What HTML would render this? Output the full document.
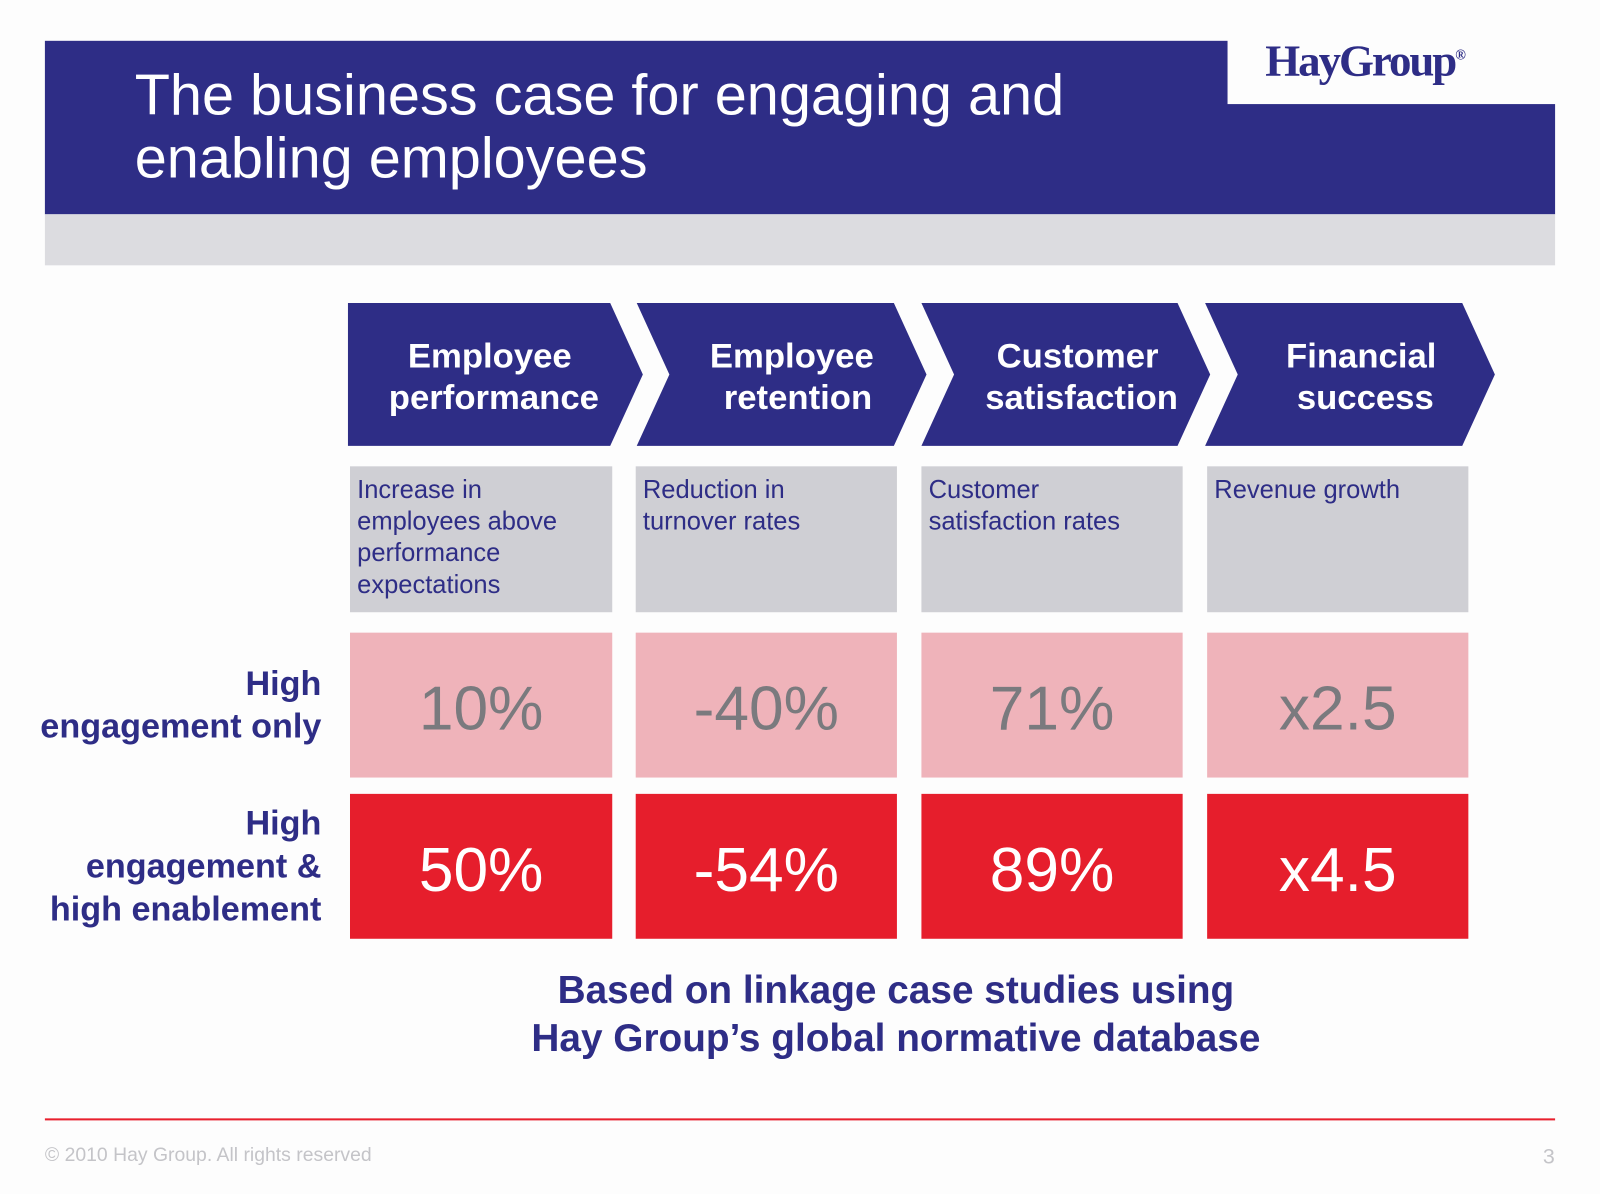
<!DOCTYPE html>
<html><head><meta charset="utf-8"><style>
body{margin:0;width:1600px;height:1194px;background:#fdfdfd;position:relative;overflow:hidden;font-family:"Liberation Sans",sans-serif}
#wrap{position:absolute;left:0;top:0;width:1568px;height:1170px;transform:scale(1.0204);transform-origin:0 0}
div{position:absolute}
#wrap>div,#wrap>svg{position:absolute}
.box{display:flex;align-items:center;justify-content:center;padding-top:6px;box-sizing:border-box}
.gray{background:#cfcfd4;color:#2e2d86;font-size:25px;line-height:31px;padding:8px 7px;box-sizing:border-box}
.pink{background:#efb3ba;color:#7a7a7e;font-size:61px}
.red{background:#e61e2c;color:#fff;font-size:61px}
.lbl{right:1253px;text-align:right;color:#2e2d86;font-weight:bold;font-size:33.5px;line-height:42px}
</style></head><body>
<div id="wrap">
<div style="left:44px;top:40px;width:1480px;height:170px;background:#2e2d86"></div>
<div style="left:1203px;top:38px;width:325px;height:64px;background:#fdfdfd"></div>
<div style="left:1240px;top:34px;font-family:'Liberation Serif',serif;font-weight:bold;font-size:44px;color:#2e2d86;letter-spacing:-2px">HayGroup<sup style="font-size:14px">®</sup></div>
<div style="left:132px;top:62px;color:#fff;font-size:56.5px;line-height:62px">The business case for engaging and<br>enabling employees</div>
<div style="left:44px;top:210px;width:1480px;height:50px;background:#dcdce0"></div>
<svg style="left:0;top:0" width="1568" height="460">
<polygon points="341,297 598,297 630,367 598,437 341,437" fill="#2e2d86"/>
<polygon points="624,297 876,297 908,367 876,437 624,437 656,367" fill="#2e2d86"/>
<polygon points="903,297 1154,297 1186,367 1154,437 903,437 935,367" fill="#2e2d86"/>
<polygon points="1181,297 1433,297 1465,367 1433,437 1181,437 1213,367" fill="#2e2d86"/>
<g fill="#fff" font-weight="bold" font-size="34" text-anchor="middle" font-family="Liberation Sans, sans-serif">
<text x="480" y="360">Employee</text><text x="484" y="401">performance</text>
<text x="776" y="360">Employee</text><text x="782" y="401">retention</text>
<text x="1056" y="360">Customer</text><text x="1060" y="401">satisfaction</text>
<text x="1334" y="360">Financial</text><text x="1338" y="401">success</text>
</g></svg>
<div class="gray" style="left:343px;top:457px;width:257px;height:143px">Increase in<br>employees above<br>performance<br>expectations</div>
<div class="gray" style="left:623px;top:457px;width:256px;height:143px">Reduction in<br>turnover rates</div>
<div class="gray" style="left:903px;top:457px;width:256px;height:143px">Customer<br>satisfaction rates</div>
<div class="gray" style="left:1183px;top:457px;width:256px;height:143px">Revenue growth</div>
<div class="lbl" style="top:650px">High<br>engagement only</div>
<div class="lbl" style="top:787px">High<br>engagement &amp;<br>high enablement</div>
<div class="box pink" style="left:343px;top:620px;width:257px;height:142px">10%</div>
<div class="box pink" style="left:623px;top:620px;width:256px;height:142px">-40%</div>
<div class="box pink" style="left:903px;top:620px;width:256px;height:142px">71%</div>
<div class="box pink" style="left:1183px;top:620px;width:256px;height:142px">x2.5</div>
<div class="box red" style="left:343px;top:778px;width:257px;height:142px">50%</div>
<div class="box red" style="left:623px;top:778px;width:256px;height:142px">-54%</div>
<div class="box red" style="left:903px;top:778px;width:256px;height:142px">89%</div>
<div class="box red" style="left:1183px;top:778px;width:256px;height:142px">x4.5</div>
<div style="left:378px;width:1000px;top:948px;text-align:center;color:#2e2d86;font-weight:bold;font-size:38px;line-height:47px">Based on linkage case studies using<br>Hay Group’s global normative database</div>
<div style="left:44px;top:1096px;width:1480px;height:2px;background:#e8202e"></div>
<div style="left:44px;top:1122px;color:#c4c4c8;font-size:19px">© 2010 Hay Group. All rights reserved</div>
<div style="left:1512px;top:1122px;color:#c4c4c8;font-size:21px">3</div>
</div>
</body></html>
